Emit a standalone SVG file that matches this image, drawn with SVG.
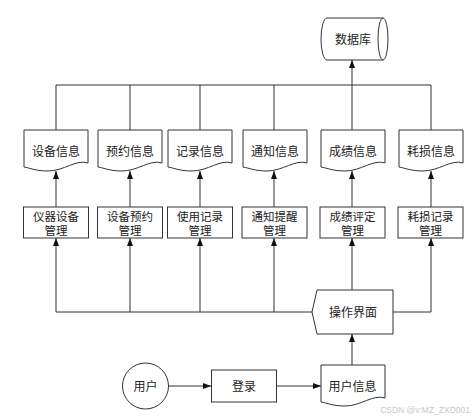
<svg xmlns="http://www.w3.org/2000/svg" xmlns:xlink="http://www.w3.org/1999/xlink" width="474" height="419" viewBox="0 0 474 419">
<style>
.shape{fill:#fff;stroke:#333;stroke-width:1}
.line{fill:none;stroke:#333;stroke-width:1}
.arrow{fill:none;stroke:#333;stroke-width:1;marker-end:url(#ah)}
text{font-family:"Noto Sans CJK SC","Liberation Sans",sans-serif;font-size:12px;fill:#222;text-anchor:middle}
.two{font-family:"Liberation Sans","Noto Sans CJK SC",sans-serif;font-size:11.5px}
.wm{font-family:"Liberation Sans",sans-serif;font-size:8.5px;fill:#c8c8c8;text-anchor:end}
</style>
<defs>
<marker id="ah" markerWidth="8" markerHeight="6" refX="8" refY="3" orient="auto" markerUnits="userSpaceOnUse">
<path d="M0,0 L8,3 L0,6 Z" fill="#111"/>
</marker>
<path id="doc" d="M0,0 H64 V33 C52,29 40,41 24,41 C12,41 6,38 0,37 Z"/>
</defs>
<rect width="474" height="419" fill="#fff"/>

<g id="connectors">
<path class="line" d="M56,85 H431 M56,85 V130 M130,85 V130 M200,85 V130 M274,85 V130 M431,85 V130 M352,85 V130"/>
<path class="arrow" d="M352,85 V60"/>
<path class="arrow" d="M56,207 V171"/>
<path class="arrow" d="M130,207 V171"/>
<path class="arrow" d="M200,207 V171"/>
<path class="arrow" d="M274,207 V171"/>
<path class="arrow" d="M352,207 V171"/>
<path class="arrow" d="M431,207 V171"/>
<path class="line" d="M56,312 H312 M393,312 H431"/>
<path class="arrow" d="M56,312 V238"/>
<path class="arrow" d="M130,312 V238"/>
<path class="arrow" d="M200,312 V238"/>
<path class="arrow" d="M274,312 V238"/>
<path class="arrow" d="M431,312 V238"/>
<path class="arrow" d="M352,290 V238"/>
<path class="arrow" d="M352,365 V334"/>
<path class="arrow" d="M168,386 H211"/>
<path class="arrow" d="M277,386 H321"/>
</g>

<g id="db">
<path class="shape" d="M327,18 H383 A5,21 0 0 1 383,60 H327 A6,21 0 0 1 327,18 Z"/>
<path class="line" d="M383,18 A5,21 0 0 0 383,60"/>
<text x="353" y="43.5">数据库</text>
</g>

<g id="info1"><use href="#doc" class="shape" x="24" y="130"/><text x="56" y="156">设备信息</text></g>
<g id="info2"><use href="#doc" class="shape" x="98" y="130"/><text x="130" y="156">预约信息</text></g>
<g id="info3"><use href="#doc" class="shape" x="168" y="130"/><text x="200" y="156">记录信息</text></g>
<g id="info4"><use href="#doc" class="shape" x="243" y="130"/><text x="275" y="156">通知信息</text></g>
<g id="info5"><use href="#doc" class="shape" x="321" y="130"/><text x="353" y="156">成绩信息</text></g>
<g id="info6"><use href="#doc" class="shape" x="399" y="130"/><text x="431" y="156">耗损信息</text></g>

<g id="mgr1"><rect class="shape" x="23.5" y="207" width="65" height="31"/><text class="two"><tspan x="56" y="221">仪器设备</tspan><tspan x="56" y="234.5">管理</tspan></text></g>
<g id="mgr2"><rect class="shape" x="97.5" y="207" width="65" height="31"/><text class="two"><tspan x="130" y="221">设备预约</tspan><tspan x="130" y="234.5">管理</tspan></text></g>
<g id="mgr3"><rect class="shape" x="167.5" y="207" width="65" height="31"/><text class="two"><tspan x="200" y="221">使用记录</tspan><tspan x="200" y="234.5">管理</tspan></text></g>
<g id="mgr4"><rect class="shape" x="242" y="207" width="65" height="31"/><text class="two"><tspan x="274.5" y="221">通知提醒</tspan><tspan x="274.5" y="234.5">管理</tspan></text></g>
<g id="mgr5"><rect class="shape" x="320" y="207" width="65" height="31"/><text class="two"><tspan x="352.5" y="221">成绩评定</tspan><tspan x="352.5" y="234.5">管理</tspan></text></g>
<g id="mgr6"><rect class="shape" x="398" y="207" width="65" height="31"/><text class="two"><tspan x="430.5" y="221">耗损记录</tspan><tspan x="430.5" y="234.5">管理</tspan></text></g>

<g id="ui">
<path class="shape" d="M317,290 H393 V334 H317 L312,312 Z"/>
<text x="353" y="316.5">操作界面</text>
</g>

<g id="user">
<circle class="shape" cx="145.5" cy="386" r="23"/>
<text x="145.5" y="390.5">用户</text>
</g>

<g id="login">
<rect class="shape" x="211.5" y="370" width="65" height="32"/>
<text x="244" y="390.5">登录</text>
</g>

<g id="userinfo">
<use href="#doc" class="shape" x="321" y="365"/>
<text x="352.5" y="391">用户信息</text>
</g>

<text class="wm" x="470" y="413">CSDN @v:MZ_ZXD001</text>
</svg>
